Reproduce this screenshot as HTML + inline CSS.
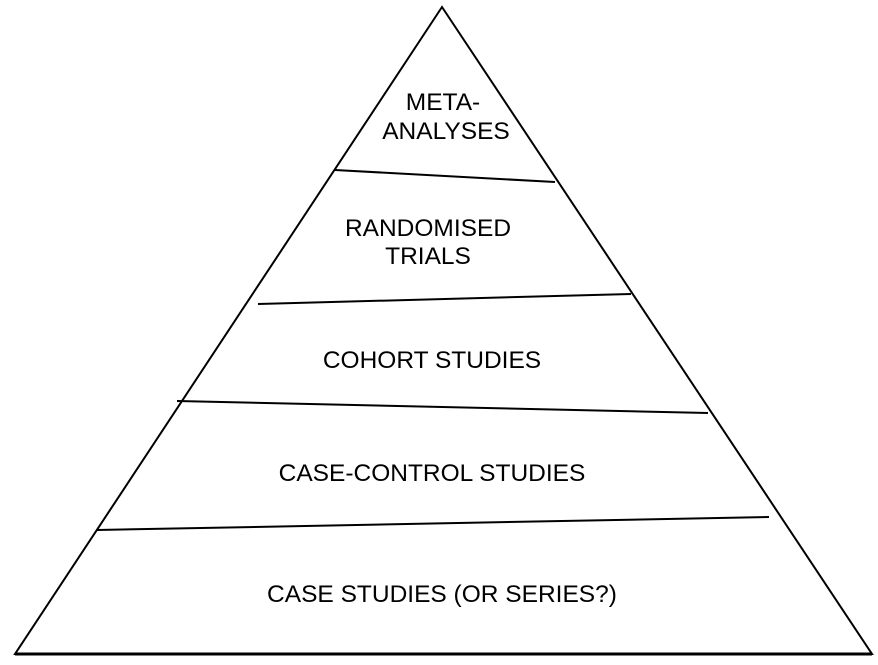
<!DOCTYPE html>
<html><head><meta charset="utf-8"><style>
html,body{margin:0;padding:0;background:#fff;}
svg{display:block;}
text{font-family:"Liberation Sans",sans-serif;font-size:24.5px;fill:#000;text-anchor:middle;}
</style></head><body>
<svg width="878" height="665" viewBox="0 0 878 665">
<polygon points="442,7 15,654 872,654" fill="#fff" stroke="#000" stroke-width="2"/>
<line x1="15" y1="654" x2="872" y2="654" stroke="#000" stroke-width="3"/>
<line x1="335" y1="170" x2="555" y2="182" stroke="#000" stroke-width="2"/>
<line x1="258" y1="304" x2="631" y2="294" stroke="#000" stroke-width="2"/>
<line x1="177" y1="401" x2="708" y2="413" stroke="#000" stroke-width="2"/>
<line x1="97" y1="530" x2="769" y2="517" stroke="#000" stroke-width="2"/>
<text x="443" y="110">META-</text>
<text x="446" y="139">ANALYSES</text>
<text x="428" y="236">RANDOMISED</text>
<text x="428" y="264">TRIALS</text>
<text x="432" y="368">COHORT STUDIES</text>
<text x="432" y="481">CASE-CONTROL STUDIES</text>
<text x="442" y="602">CASE STUDIES (OR SERIES?)</text>
</svg>
</body></html>
